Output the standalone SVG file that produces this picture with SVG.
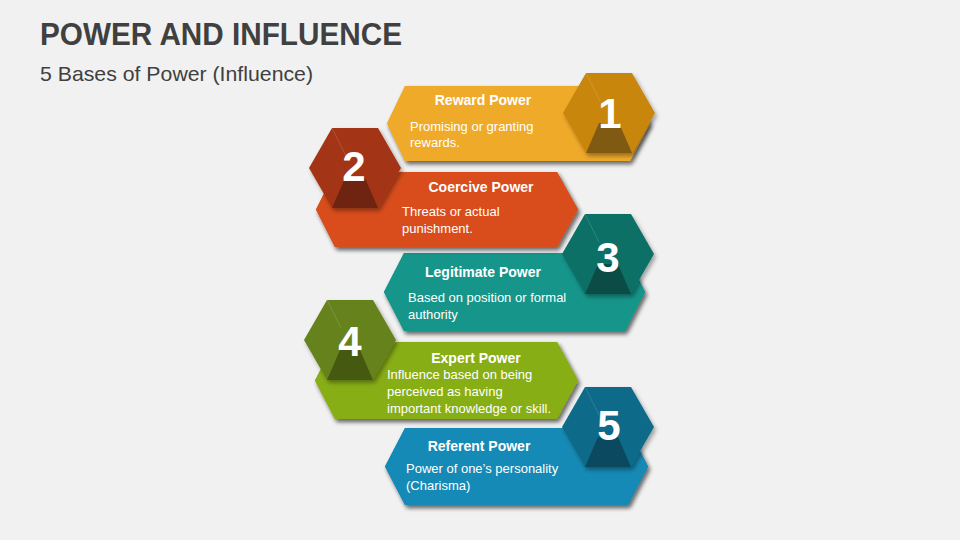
<svg xmlns="http://www.w3.org/2000/svg" xmlns:xlink="http://www.w3.org/1999/xlink" width="960" height="540" viewBox="0 0 960 540">
  <defs>
    <filter id="sh" x="-20%" y="-20%" width="140%" height="150%">
      <feDropShadow dx="2" dy="3" stdDeviation="2.2" flood-color="#000" flood-opacity="0.35"/>
    </filter>
    <linearGradient id="topShade" x1="0" y1="0" x2="0" y2="1">
      <stop offset="0" stop-color="#000" stop-opacity="0.22"/>
      <stop offset="0.08" stop-color="#000" stop-opacity="0"/>
      <stop offset="1" stop-color="#000" stop-opacity="0"/>
    </linearGradient>
    <style>
      .title { font-family: "Liberation Sans", Arial, sans-serif; font-weight: bold; font-size: 31px; fill: #404040; }
      .sub { font-family: "Liberation Sans", Arial, sans-serif; font-size: 21px; fill: #404040; }
      .bt { font-family: "Liberation Sans", Arial, sans-serif; font-weight: bold; font-size: 14px; fill: #ffffff; text-anchor: middle; }
      .bd { font-family: "Liberation Sans", Arial, sans-serif; font-size: 13px; fill: #ffffff; }
      .num { font-family: "Liberation Sans", Arial, sans-serif; font-weight: bold; font-size: 42px; fill: #ffffff; text-anchor: middle; }
      .edge { stroke: #ffffff; stroke-opacity: 0.18; stroke-width: 0.8; fill: none; }
    </style>
  </defs>
  <rect width="960" height="540" fill="#F1F1F1"/>
  <text class="title" x="40" y="45" textLength="362" lengthAdjust="spacingAndGlyphs">POWER AND INFLUENCE</text>
  <text class="sub" x="40" y="81" textLength="273" lengthAdjust="spacingAndGlyphs">5 Bases of Power (Influence)</text>

  <g id="connectors"></g>

  <g id="node5">
    <polygon id="b5" points="405,428 628,428 648,466.5 628,505 405,505 385,466.5" fill="#138AB6" filter="url(#sh)"/>
    <use xlink:href="#b5" href="#b5" fill="url(#topShade)" filter="none"/>
    <polygon points="562,427 585,387 631,387 654,427 631,467 585,467" fill="#0F6A88" filter="url(#sh)"/>
    <polygon points="585,467 631,467 618,437 598,437" fill="#0A4960"/>
    <line class="edge" x1="585" y1="387" x2="599" y2="415"/>
    <text class="num" x="609" y="440">5</text>
    <text class="bt" x="479" y="451">Referent Power</text>
    <text class="bd" x="406" y="473">Power of one’s personality</text>
    <text class="bd" x="406" y="490">(Charisma)</text>
  </g>

  <g id="node4">
    <polygon id="b4" points="335,342 557,342 578,380.5 557,419 335,419 315,380.5" fill="#88AE14" filter="url(#sh)"/>
    <use xlink:href="#b4" href="#b4" fill="url(#topShade)" filter="none"/>
    <polygon points="304,340 327,300 373,300 396,340 373,380 327,380" fill="#66821A" filter="url(#sh)"/>
    <polygon points="327,380 373,380 360,350 340,350" fill="#455A10"/>
    <line class="edge" x1="327" y1="300" x2="341" y2="328"/>
    <text class="num" x="350" y="356">4</text>
    <text class="bt" x="476" y="363">Expert Power</text>
    <text class="bd" x="387" y="379">Influence based on being</text>
    <text class="bd" x="387" y="396">perceived as having</text>
    <text class="bd" x="387" y="413">important knowledge or skill.</text>
  </g>

  <g id="node3">
    <polygon id="b3" points="404,253 625,253 645,292 625,331 404,331 384,292" fill="#15958A" filter="url(#sh)"/>
    <use xlink:href="#b3" href="#b3" fill="url(#topShade)" filter="none"/>
    <polygon points="562,254 585,214 631,214 654,254 631,294 585,294" fill="#0F6F66" filter="url(#sh)"/>
    <polygon points="585,294 631,294 618,264 598,264" fill="#0B4C46"/>
    <line class="edge" x1="585" y1="214" x2="599" y2="242"/>
    <text class="num" x="608" y="272">3</text>
    <text class="bt" x="483" y="277">Legitimate Power</text>
    <text class="bd" x="408" y="302">Based on position or formal</text>
    <text class="bd" x="408" y="319">authority</text>
  </g>

  <g id="node2">
    <polygon id="b2" points="335,172 557,172 578,209.5 557,247 335,247 316,209.5" fill="#D94E1E" filter="url(#sh)"/>
    <use xlink:href="#b2" href="#b2" fill="url(#topShade)" filter="none"/>
    <polygon points="309,168 332,128 378,128 401,168 378,208 332,208" fill="#A33614" filter="url(#sh)"/>
    <polygon points="332,208 378,208 365,178 345,178" fill="#6E2410"/>
    <line class="edge" x1="332" y1="128" x2="346" y2="156"/>
    <text class="num" x="354" y="181">2</text>
    <text class="bt" x="481" y="192">Coercive Power</text>
    <text class="bd" x="402" y="216">Threats or actual</text>
    <text class="bd" x="402" y="233">punishment.</text>
  </g>

  <g id="node1">
    <polygon id="b1" points="405,86 630,86 650,123.5 630,161 405,161 387,123.5" fill="#EFAA2C" filter="url(#sh)"/>
    <use xlink:href="#b1" href="#b1" fill="url(#topShade)" filter="none"/>
    <polygon points="563,113 586,73 632,73 655,113 632,153 586,153" fill="#C8860F" filter="url(#sh)"/>
    <polygon points="586,153 632,153 619,123 599,123" fill="#805A12"/>
    <line class="edge" x1="586" y1="73" x2="600" y2="101"/>
    <text class="num" x="610" y="128">1</text>
    <text class="bt" x="483" y="105">Reward Power</text>
    <text class="bd" x="410" y="131">Promising or granting</text>
    <text class="bd" x="410" y="147">rewards.</text>
  </g>
</svg>
